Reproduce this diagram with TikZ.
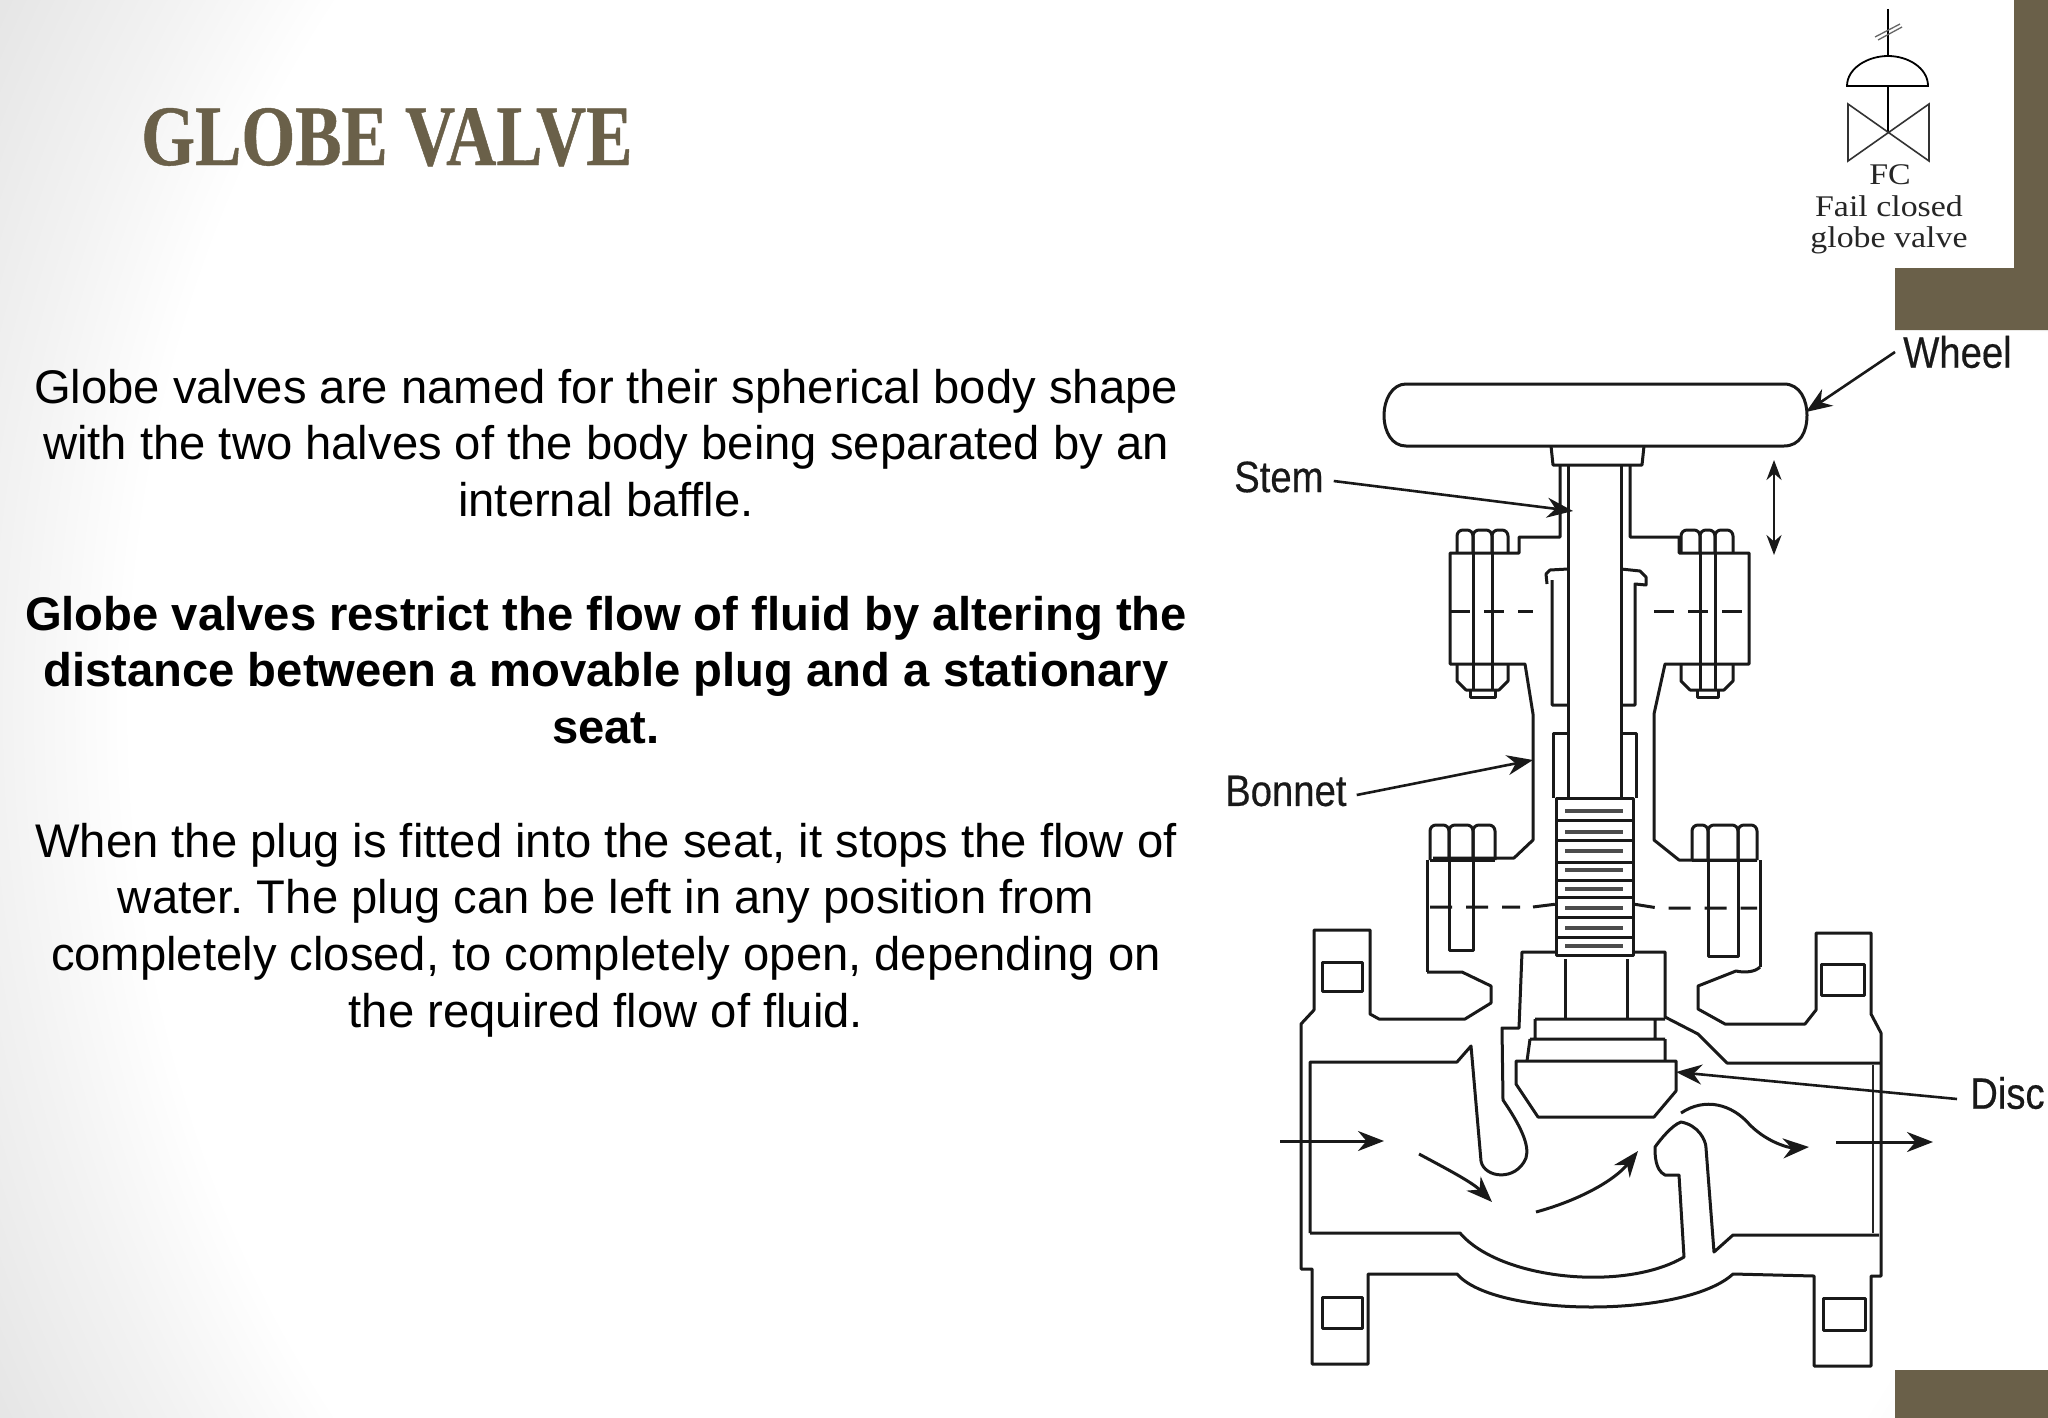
\documentclass[tikz,border=0pt]{standalone}
\usepackage{fontspec}
\usetikzlibrary{arrows.meta}
\setmainfont{Liberation Sans}
\newfontfamily\titlefont[FakeStretch=0.806,FakeBold=0.5]{Liberation Serif}
\newfontfamily\calloutfont[FakeStretch=0.87,FakeBold=0.4]{Liberation Sans}
\newfontfamily\symbolfont[FakeStretch=1.13]{Liberation Serif}
\definecolor{slideolive}{HTML}{6A6049}
\pgfdeclareradialshading{vignette}{\pgfpointorigin}{color(0bp)=(white);color(22bp)=(white);color(25bp)=(black!5);color(28.5bp)=(black!10);color(35bp)=(black!18);color(70bp)=(black!18)}
\tikzset{
	valve/.style={line width=3pt, line join=round, black!90},
	thin valve/.style={line width=1.8pt, black!85},
	pointer/.style={line width=2.6pt, black!90, -{Stealth[length=26pt,width=20pt]}},
	flow/.style={line width=3pt, black!90, -{Stealth[length=26pt,width=20pt]}},
	para/.style={font=\fontsize{47.2}{56.7}\selectfont, align=center, black},
	callout/.style={font=\calloutfont\fontsize{44}{44}\selectfont, black!90, inner sep=0pt},
	fctext/.style={font=\symbolfont\fontsize{30}{32}\selectfont, black!85, inner sep=0pt},
	nut/.style={valve, rounded corners=6pt}
}
\frenchspacing

\begin{document}
\begin{tikzpicture}[x=1pt,y=-1pt]
	\useasboundingbox (0,0) rectangle (2048,1418);
	\clip (0,0) rectangle (2048,1418);
	\shade[shading=vignette] (0,-591) rectangle (2200,2009);

	% white patches and olive corners
	\fill[white] (1220,332) rectangle (2048,1370);
	\fill[white] (1775,0) rectangle (2014,268);
	\fill[slideolive] (2014,0) -- (2048,0) -- (2048,330) -- (1895,330) -- (1895,268) -- (2014,268) -- cycle;
	\fill[slideolive] (1895,1370) rectangle (2048,1418);

	% title and text
	\node[font=\titlefont\bfseries\fontsize{86}{86}\selectfont, slideolive, anchor=base west, inner sep=0pt] (title) at (141,165) {GLOBE VALVE};
	\node[para] (intro) at (606,443) {Globe valves are named for their spherical body shape\\with the two halves of the body being separated by an\\internal baffle.};
	\node[para, font=\bfseries\fontsize{47.2}{56.7}\selectfont] (restrict) at (606,670) {Globe valves restrict the flow of fluid by altering the\\distance between a movable plug and a stationary\\seat.};
	\node[para] (plug) at (606,930) {When the plug is fitted into the seat, it stops the flow of\\water. The plug can be left in any position from\\completely closed, to completely open, depending on\\the required flow of fluid.};

	% symbol, top right
	\draw[line width=2pt] (1888,9) -- (1888,56);
	\draw[line width=1.3pt, black!60] (1875,37) -- (1900,24) (1878,40) -- (1902,27);
	\draw[line width=1.8pt] (1847,86) .. controls (1847,68) and (1868,56) .. (1888,56) .. controls (1908,56) and (1928,68) .. (1928,86) -- cycle;
	\draw[line width=2pt] (1888,86) -- (1888,133);
	\draw[line width=1.6pt, black!80] (1848,104) -- (1929,161) -- (1929,104) -- (1848,161) -- cycle;
	\node[fctext] (fc) at (1890,175) {FC};
	\node[fctext] (failclosed) at (1889,206) {Fail closed};
	\node[fctext] (globevalve) at (1889,240) {globe valve};

	% wheel and hub
	\draw[valve] (1406,384) -- (1784,384) .. controls (1800,384) and (1807,400) .. (1807,415) .. controls (1807,432) and (1800,446) .. (1784,446) -- (1406,446) .. controls (1392,446) and (1384,432) .. (1384,415) .. controls (1384,400) and (1392,384) .. (1406,384) -- cycle;
	\draw[valve] (1551,446) -- (1553,465) -- (1642,465) -- (1644,446);

	% stem and yoke
	\draw[valve] (1568,465) -- (1568,798);
	\draw[valve] (1621,465) -- (1621,798);
	\draw[valve] (1560,465) -- (1560,537) -- (1519,537) -- (1519,553) -- (1450,553) -- (1450,664) -- (1525,664) -- (1533,714) -- (1533,840) -- (1514,858) -- (1433,858);
	\draw[valve] (1630,465) -- (1630,537) -- (1679,537) -- (1679,553) -- (1749,553) -- (1749,664) -- (1665,664) -- (1654,714) -- (1654,840) -- (1679,860) -- (1757,860);
	\draw[valve, dash pattern=on 20pt off 14pt] (1450,611) -- (1533,611);
	\draw[valve, dash pattern=on 20pt off 14pt] (1654,611) -- (1749,611);

	% gland
	\draw[valve] (1568,569) -- (1550,570) -- (1546,574) -- (1547,584) (1552,580) -- (1552,705) -- (1568,705);
	\draw[valve] (1621,569) -- (1640,571) -- (1646,577) -- (1646,585) -- (1635,584) -- (1635,705) -- (1621,705);
	\draw[valve] (1568,733) -- (1553,733) -- (1553,798);
	\draw[valve] (1621,733) -- (1636,733) -- (1636,798);

	% upper and lower bolts
	\draw[valve] (1473,553) -- (1473,664) (1492,553) -- (1492,664);
	\draw[valve] (1700,553) -- (1700,664) (1715,553) -- (1715,664);
	\foreach \xa/\xb/\xc/\xd in {1457/1473/1492/1508, 1681/1700/1715/1733} {
		\draw[nut] (\xa,553) -- (\xa,530) -- (\xb,530) -- (\xb,553);
		\draw[nut] (\xb,553) -- (\xb,530) -- (\xc,530) -- (\xc,553);
		\draw[nut] (\xc,553) -- (\xc,530) -- (\xd,530) -- (\xd,553);
		\draw[valve] (\xa,664) -- (\xa,681) -- ([xshift=9pt]\xa,690) -- ([xshift=-9pt]\xd,690) -- (\xd,681) -- (\xd,664);
		\draw[valve] (\xb,664) -- (\xb,690) (\xc,664) -- (\xc,690);
		\draw[valve] ([xshift=-3pt]\xb,690) -- ([xshift=-3pt]\xb,697) -- ([xshift=3pt]\xc,697) -- ([xshift=3pt]\xc,690);
	}
	\draw[valve] (1427,860) -- (1427,972);
	\draw[valve] (1760,860) -- (1760,967);
	\draw[valve] (1449,860) -- (1449,950) -- (1473,950) -- (1473,860);
	\draw[valve] (1708,860) -- (1708,956) -- (1738,956) -- (1738,860);
	\foreach \xa/\xb/\xc/\xd in {1430/1449/1473/1495, 1692/1708/1738/1757} {
		\draw[nut] (\xa,860) -- (\xa,825) -- (\xb,825) -- (\xb,860);
		\draw[nut] (\xb,860) -- (\xb,825) -- (\xc,825) -- (\xc,860);
		\draw[nut] (\xc,860) -- (\xc,825) -- (\xd,825) -- (\xd,860);
		\draw[valve] (\xa,860) -- (\xd,860);
	}
	\draw[valve, dash pattern=on 22pt off 14pt] (1430,907) -- (1520,907) (1533,907) -- (1557,904);
	\draw[valve, dash pattern=on 22pt off 14pt] (1633,904) -- (1658,908) -- (1757,908);

	% threaded packing
	\draw[valve] (1556,798) rectangle (1633,955);
	\foreach \ysep in {820,840,862,880,897,917,937} {
		\draw[valve] (1556,\ysep) -- (1633,\ysep);
	}
	\foreach \ybar in {811,832,851,870,889,908,928,946} {
		\draw[line width=3.6pt, black!70] (1565,\ybar) -- (1623,\ybar);
	}

	% body outside
	\draw[valve] (1427,972) -- (1462,972) -- (1491,986) -- (1491,1003) -- (1465,1019) -- (1379,1019) -- (1370,1014) -- (1370,930) -- (1314,930) -- (1314,1010) -- (1301,1024) -- (1301,1269) -- (1312,1269) -- (1312,1364) -- (1368,1364) -- (1368,1274) -- (1457,1274) .. controls (1495,1318) and (1685,1318) .. (1733,1274) -- (1814,1276) -- (1814,1366) -- (1871,1366) -- (1871,1276) -- (1881,1276) -- (1881,1033) -- (1871,1014) -- (1871,933) -- (1816,933) -- (1816,1010) -- (1805,1024) -- (1725,1024) -- (1698,1009) -- (1698,986) -- (1736,971) .. controls (1745,973) and (1755,972) .. (1760,967);
	% flange holes
	\draw[valve] (1322,962) rectangle (1362,991);
	\draw[valve] (1821,964) rectangle (1864,995);
	\draw[valve] (1322,1297) rectangle (1362,1328);
	\draw[valve] (1823,1298) rectangle (1865,1330);

	% bore, baffle and seat
	\draw[valve] (1310,1233) -- (1310,1062) -- (1457,1062) -- (1471,1046) -- (1481,1161) .. controls (1484,1178) and (1516,1182) .. (1526,1158) .. controls (1530,1145) and (1520,1125) .. (1503,1100) -- (1502,1028) -- (1519,1028) -- (1522,952) -- (1557,952);
	\draw[valve] (1632,952) -- (1665,952) -- (1665,1017) -- (1698,1034) -- (1727,1063) -- (1881,1063);
	\draw[valve] (1310,1233) -- (1460,1233) .. controls (1500,1280) and (1625,1292) .. (1684,1257) -- (1679,1175) -- (1665,1175) .. controls (1655,1170) and (1655,1155) .. (1655,1147) .. controls (1660,1140) and (1672,1125) .. (1681,1122) .. controls (1698,1125) and (1706,1140) .. (1706,1148) -- (1714,1252) -- (1733,1235) -- (1879,1235);
	\draw[thin valve] (1873,1065) -- (1873,1233);

	% plug
	\draw[valve] (1565,959) -- (1565,1019) (1627,959) -- (1627,1019);
	\draw[valve] (1535,1019) -- (1665,1019) (1535,1019) -- (1535,1039) (1655,1019) -- (1655,1039) (1530,1039) -- (1665,1039) (1530,1039) -- (1527,1061) (1665,1039) -- (1665,1061);
	\draw[valve] (1516,1061) -- (1676,1061) -- (1676,1091) -- (1654,1117) -- (1538,1117) -- (1516,1084) -- cycle;

	% flow arrows
	\draw[flow] (1280,1141) -- (1384,1141);
	\draw[flow] (1836,1142) -- (1933,1142);
	\draw[flow] (1419,1154) .. controls (1445,1168) and (1472,1182) .. (1492,1202);
	\draw[flow] (1536,1212) .. controls (1580,1200) and (1615,1180) .. (1638,1151);
	\draw[flow] (1681,1113) .. controls (1705,1097) and (1732,1104) .. (1750,1125) .. controls (1768,1143) and (1790,1148) .. (1809,1147);

	% callouts
	\node[callout, anchor=west] (wheellabel) at (1903,352) {Wheel};
	\node[callout, anchor=west] (stemlabel) at (1234,477) {Stem};
	\node[callout, anchor=west] (bonnetlabel) at (1225,791) {Bonnet};
	\node[callout, anchor=west] (disclabel) at (1970,1093) {Disc};
	\coordinate (wheeltip) at (1806,412);
	\coordinate (stemtip) at (1573,511);
	\coordinate (bonnettip) at (1533,760);
	\coordinate (disctip) at (1676,1072);
	\draw[pointer] ([xshift=-8pt]wheellabel.west) -- (wheeltip);
	\draw[pointer] ([xshift=10pt,yshift=-4pt]stemlabel.east) -- (stemtip);
	\draw[pointer] ([xshift=10pt,yshift=-4pt]bonnetlabel.east) -- (bonnettip);
	\draw[pointer] ([xshift=-13pt,yshift=-6pt]disclabel.west) -- (disctip);

	% travel arrow
	\coordinate (travelup) at (1774,460);
	\coordinate (traveldown) at (1774,555);
	\draw[line width=2.6pt, black!90, {Stealth[length=20pt,width=15pt]}-{Stealth[length=20pt,width=15pt]}] (travelup) -- (traveldown);
\end{tikzpicture}
\end{document}
